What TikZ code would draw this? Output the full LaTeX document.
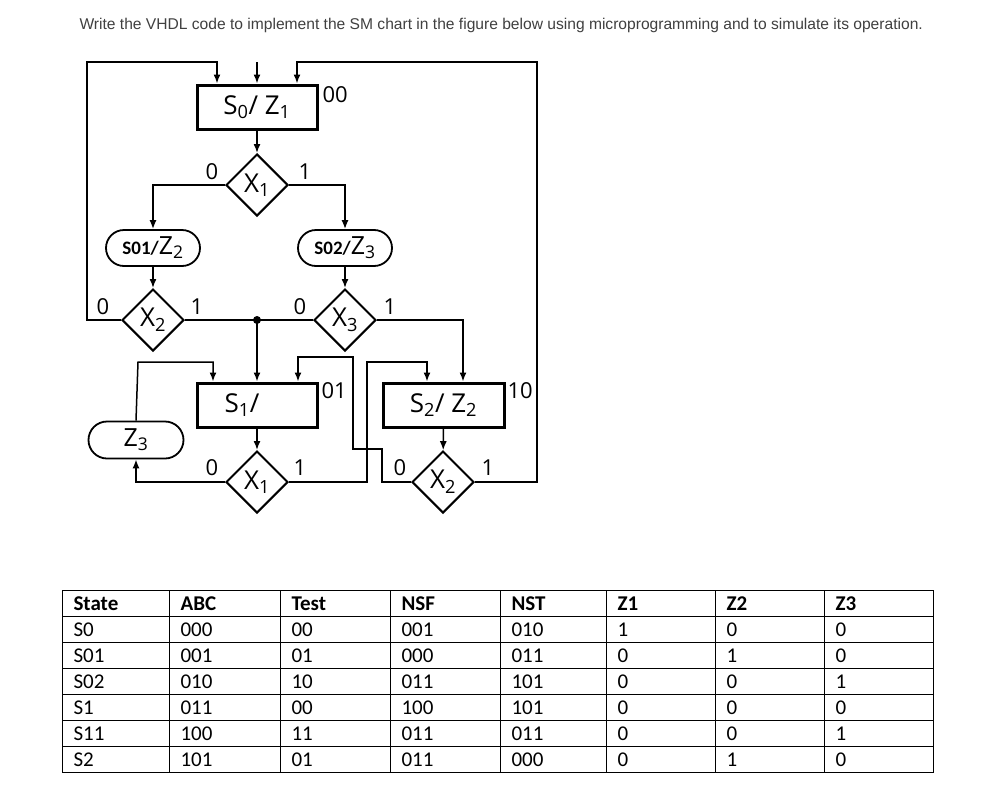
\documentclass[tikz,border=0pt]{standalone}
\usepackage{fontspec}
\setmainfont{Liberation Sans}
\newfontfamily\chartf{Open Sans}
\newfontfamily\tabf{Carlito}
\usetikzlibrary{shapes.geometric,shapes.misc,arrows.meta}
\newcommand{\sbs}[1]{\textsubscript{#1}}
\begin{document}
\begin{tikzpicture}[x=1pt,y=-1pt,
  sbox/.style={draw,line width=3pt,minimum width=120pt,minimum height=44pt,font=\chartf\fontsize{26}{26}\selectfont},
  dec/.style={draw,diamond,line width=2pt,minimum width=62pt,minimum height=62pt,inner sep=0pt,font=\chartf\fontsize{26}{26}\selectfont},
  ov/.style={draw,rounded rectangle,line width=1.8pt,minimum width=96pt,minimum height=36pt,inner sep=1pt},
  lab/.style={font=\chartf\fontsize{22}{22}\selectfont},
  wire/.style={line width=1.5pt},
  arr/.style={wire,-{Latex[length=9pt,width=7pt]}},
  tt/.style={font=\tabf\fontsize{21}{21}\selectfont,anchor=west},
  th/.style={font=\tabf\bfseries\fontsize{21}{21}\selectfont,anchor=west}]
\useasboundingbox (0,0) rectangle (1004,798);
\fill[white] (0,0) rectangle (1004,798);
\node[anchor=west,text=black!75,font=\fontsize{15.6}{15.6}\selectfont] (title) at (76,25) {Write the VHDL code to implement the SM chart in the figure below using microprogramming and to simulate its operation.};
% states
\node[sbox] (s0) at (257,107) {S\sbs{0}/ Z\sbs{1}};
\node[lab,anchor=west] (l00) at (319,95) {00};
\node[dec] (x1a) at (257,185) {X\sbs{1}};
\node[lab] (x1a0) at (212,172) {0};
\node[lab] (x1a1) at (305,172) {1};
\node[ov] (s01) at (153,248) {\tabf\bfseries\fontsize{19}{19}\selectfont S01/\chartf\mdseries\fontsize{25}{25}\selectfont Z\sbs{2}};
\node[ov] (s02) at (345,248) {\tabf\bfseries\fontsize{19}{19}\selectfont S02/\chartf\mdseries\fontsize{25}{25}\selectfont Z\sbs{3}};
\node[dec] (x2a) at (153,320) {X\sbs{2}};
\node[lab] (x2a0) at (103,307) {0};
\node[lab] (x2a1) at (197,307) {1};
\node[dec] (x3) at (345,320) {X\sbs{3}};
\node[lab] (x30) at (300,307) {0};
\node[lab] (x31) at (390,307) {1};
\coordinate (dot) at (257,320);
\fill (dot) circle (4pt);
\node[sbox] (s1) at (257,405) {\hspace*{-30pt}S\sbs{1}/};
\node[lab,anchor=west] (l01) at (318,391) {01};
\node[sbox,minimum width=121pt] (s2) at (443.5,405) {S\sbs{2}/ Z\sbs{2}};
\node[lab,anchor=west] (l10) at (504,391) {10};
\node[ov,minimum width=97pt,minimum height=37pt,font=\chartf\fontsize{25}{25}\selectfont] (z3) at (136,440) {Z\sbs{3}};
\node[dec] (x1b) at (257,482) {X\sbs{1}};
\node[lab] (x1b0) at (212,468) {0};
\node[lab] (x1b1) at (300,468) {1};
\node[dec] (x2b) at (443,482) {X\sbs{2}};
\node[lab] (x2b0) at (400,468) {0};
\node[lab] (x2b1) at (488,468) {1};
% connectors
\draw[arr] (257,62) -- (s0.north);
\draw[arr] (s0) -- (x1a);
\draw[arr] (x1a.west) -| (s01.north);
\draw[arr] (x1a.east) -| (s02.north);
\draw[arr] (s01) -- (x2a);
\draw[arr] (s02) -- (x3);
\draw[arr] (x2a.west) -- (87,320) -- (87,62) -| ([xshift=-40pt]s0.north);
\draw[wire] (x2a.east) -- (x3.west);
\draw[arr] (dot) -- (s1.north);
\draw[arr] (x3.east) -| ([xshift=19.5pt]s2.north);
\draw[arr] (s1) -- (x1b);
\draw[arr] (s2) -- (x2b);
\draw[arr] (x1b.west) -| (z3.south);
\draw[arr] (z3.north) -- (138,362) -| ([xshift=-44pt]s1.north);
\draw[arr] (x1b.east) -- (367,482) -- (367,362) -| ([xshift=-16.5pt]s2.north);
\draw[arr] (x2b.west) -- (382,482) -- (382,449) -- (353,449) -- (353,357) -| ([xshift=41pt]s1.north);
\draw[arr] (x2b.east) -- (537,482) -- (537,62) -| ([xshift=40pt]s0.north);
% table
\draw[line width=1pt] (62,590) rectangle (933,772);
\foreach \x in {169,280,390,500,606,715,824} \draw[line width=0.9pt] (\x,590) -- (\x,772);
\foreach \i in {1,...,6} \draw[line width=0.9pt] (62,590+\i*26) -- (933,590+\i*26);
\foreach \t [count=\c from 0] in {State,ABC,Test,NSF,NST,Z1,Z2,Z3}{
  \pgfmathsetmacro{\xx}{{62,169,280,390,500,606,715,824}[\c]+8}
  \node[th] at (\xx,604) {\t};}
\foreach \r [count=\j from 1] in {{S0,000,00,001,010,1,0,0},{S01,001,01,000,011,0,1,0},{S02,010,10,011,101,0,0,1},{S1,011,00,100,101,0,0,0},{S11,100,11,011,011,0,0,1},{S2,101,01,011,000,0,1,0}}{
  \foreach \t [count=\c from 0] in \r {
    \pgfmathsetmacro{\xx}{{62,169,280,390,500,606,715,824}[\c]+8}
    \node[tt] at (\xx,604+\j*26) {\t};}}
\end{tikzpicture}
\end{document}
